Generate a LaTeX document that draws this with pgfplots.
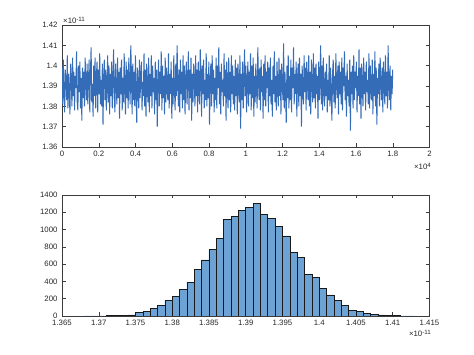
\documentclass[border=0pt]{standalone}
\usepackage{pgfplots}
\pgfplotsset{compat=1.18}
\usepackage{fontspec}
\setmainfont{Liberation Sans}
\definecolor{sigblue}{RGB}{52,108,184}
\definecolor{histblue}{RGB}{108,162,212}
\definecolor{axgray}{RGB}{60,60,60}
\newcommand{\supx}[1]{\raisebox{0.55ex}{\fontsize{6.2}{7}\selectfont #1}}
\pgfplotsset{
  mstyle/.style={
    scale only axis,
    width=367.5pt,
    axis line style={axgray, line width=0.5pt},
    every tick/.style={axgray, line width=0.5pt},
    tick align=inside,
    major tick length=3.5pt,
    tick label style={font=\fontsize{7.8}{9}\selectfont, text=black!85},
    /pgf/number format/assume math mode=true,
    scaled ticks=false,
    xtick pos=both, ytick pos=both,
    yticklabel style={xshift=-1pt},
    xticklabel style={yshift=-1pt},
  }
}
\begin{document}
\begin{tikzpicture}[x=1pt,y=1pt]
\path[use as bounding box] (0,0) rectangle (474,355);
\begin{axis}[mstyle, at={(62pt,208pt)}, anchor=south west,
  height=122pt,
  xmin=0, xmax=2, ymin=1.36, ymax=1.42,
  xtick={0,0.2,0.4,0.6,0.8,1,1.2,1.4,1.6,1.8,2},
  xticklabels={0,0.2,0.4,0.6,0.8,1,1.2,1.4,1.6,1.8,2},
  ytick={1.36,1.37,1.38,1.39,1.40,1.41,1.42},
  yticklabels={1.36,1.37,1.38,1.39,1.4,1.41,1.42},
  clip=true]
\addplot[sigblue, line width=1.0pt, line join=miter] table[row sep=\\, header=false, x expr=\coordindex*0.0036, y index=0] {
1.399\\1.381\\1.403\\1.386\\1.377\\1.398\\1.392\\1.383\\1.405\\1.379\\1.396\\1.388\\1.376\\1.401\\1.393\\1.380\\1.404\\1.385\\1.397\\1.378\\
1.395\\1.389\\1.407\\1.382\\1.378\\1.400\\1.387\\1.402\\1.379\\1.394\\1.373\\1.399\\1.384\\1.397\\1.380\\1.404\\1.390\\1.383\\1.401\\1.381\\
1.392\\1.403\\1.377\\1.396\\1.409\\1.382\\1.391\\1.375\\1.400\\1.385\\1.404\\1.379\\1.395\\1.402\\1.377\\1.398\\1.386\\1.406\\1.381\\1.393\\
1.380\\1.401\\1.371\\1.395\\1.403\\1.383\\1.398\\1.378\\1.391\\1.405\\1.382\\1.400\\1.376\\1.396\\1.385\\1.402\\1.379\\1.393\\1.408\\1.386\\
1.377\\1.401\\1.390\\1.381\\1.404\\1.384\\1.397\\1.374\\1.399\\1.386\\1.403\\1.378\\1.394\\1.382\\1.406\\1.389\\1.376\\1.402\\1.384\\1.398\\
1.379\\1.404\\1.392\\1.381\\1.410\\1.395\\1.376\\1.401\\1.383\\1.397\\1.380\\1.405\\1.387\\1.372\\1.399\\1.390\\1.379\\1.403\\1.384\\1.394\\
1.402\\1.378\\1.392\\1.385\\1.406\\1.380\\1.398\\1.375\\1.401\\1.389\\1.382\\1.404\\1.377\\1.396\\1.385\\1.405\\1.379\\1.400\\1.387\\1.394\\
1.376\\1.402\\1.383\\1.398\\1.370\\1.392\\1.403\\1.380\\1.397\\1.386\\1.407\\1.378\\1.400\\1.384\\1.395\\1.376\\1.404\\1.382\\1.399\\1.389\\
1.383\\1.406\\1.379\\1.396\\1.386\\1.402\\1.374\\1.394\\1.381\\1.405\\1.389\\1.378\\1.401\\1.385\\1.410\\1.392\\1.380\\1.398\\1.377\\1.403\\
1.386\\1.397\\1.379\\1.405\\1.383\\1.400\\1.376\\1.394\\1.402\\1.381\\1.390\\1.407\\1.378\\1.398\\1.384\\1.404\\1.373\\1.396\\1.382\\1.401\\
1.392\\1.380\\1.405\\1.385\\1.398\\1.377\\1.402\\1.389\\1.381\\1.408\\1.395\\1.375\\1.400\\1.386\\1.403\\1.379\\1.393\\1.383\\1.406\\1.380\\
1.396\\1.384\\1.402\\1.371\\1.392\\1.401\\1.380\\1.405\\1.386\\1.398\\1.377\\1.394\\1.383\\1.404\\1.379\\1.400\\1.389\\1.409\\1.381\\1.397\\
1.376\\1.401\\1.387\\1.393\\1.380\\1.406\\1.385\\1.398\\1.373\\1.402\\1.390\\1.379\\1.404\\1.383\\1.397\\1.377\\1.405\\1.386\\1.400\\1.381\\
1.395\\1.378\\1.403\\1.385\\1.399\\1.376\\1.401\\1.390\\1.382\\1.405\\1.369\\1.396\\1.383\\1.402\\1.379\\1.393\\1.408\\1.385\\1.400\\1.377\\
1.391\\1.402\\1.380\\1.397\\1.386\\1.406\\1.378\\1.400\\1.384\\1.404\\1.375\\1.395\\1.382\\1.401\\1.389\\1.379\\1.409\\1.393\\1.383\\1.399\\
1.378\\1.403\\1.387\\1.395\\1.374\\1.401\\1.383\\1.405\\1.380\\1.397\\1.389\\1.402\\1.377\\1.399\\1.385\\1.404\\1.381\\1.393\\1.375\\1.400\\
1.386\\1.407\\1.382\\1.395\\1.378\\1.402\\1.390\\1.380\\1.404\\1.385\\1.398\\1.376\\1.401\\1.392\\1.383\\1.411\\1.379\\1.397\\1.386\\1.372\\
1.400\\1.384\\1.405\\1.379\\1.395\\1.383\\1.403\\1.377\\1.399\\1.389\\1.409\\1.381\\1.396\\1.386\\1.402\\1.375\\1.393\\1.401\\1.380\\1.404\\
1.385\\1.396\\1.370\\1.400\\1.390\\1.381\\1.405\\1.387\\1.399\\1.378\\1.402\\1.392\\1.383\\1.405\\1.380\\1.397\\1.376\\1.403\\1.390\\1.382\\
1.406\\1.384\\1.399\\1.379\\1.401\\1.386\\1.395\\1.374\\1.402\\1.383\\1.392\\1.410\\1.381\\1.400\\1.378\\1.404\\1.389\\1.380\\1.397\\1.385\\
1.401\\1.377\\1.393\\1.383\\1.405\\1.380\\1.399\\1.387\\1.373\\1.396\\1.403\\1.382\\1.395\\1.379\\1.406\\1.390\\1.384\\1.400\\1.376\\1.402\\
1.386\\1.397\\1.381\\1.404\\1.378\\1.399\\1.390\\1.407\\1.383\\1.395\\1.375\\1.401\\1.385\\1.393\\1.380\\1.403\\1.368\\1.397\\1.386\\1.400\\
1.379\\1.405\\1.383\\1.397\\1.389\\1.402\\1.377\\1.395\\1.385\\1.408\\1.381\\1.399\\1.374\\1.401\\1.390\\1.380\\1.404\\1.386\\1.397\\1.378\\
1.402\\1.387\\1.393\\1.381\\1.406\\1.379\\1.400\\1.389\\1.383\\1.403\\1.376\\1.396\\1.385\\1.407\\1.380\\1.399\\1.371\\1.394\\1.386\\1.401\\
1.380\\1.404\\1.390\\1.383\\1.399\\1.377\\1.402\\1.392\\1.381\\1.405\\1.385\\1.397\\1.379\\1.410\\1.390\\1.383\\1.400\\1.378\\1.395\\1.386\\1.398\\
};
\end{axis}
\node[anchor=south west, inner sep=0pt, font=\fontsize{7.8}{9}\selectfont, text=black!85] at (63,331) {×10\supx{-11}};
\node[anchor=north east, inner sep=0pt, font=\fontsize{7.8}{9}\selectfont, text=black!85] at (431,192) {×10\supx{4}};
\begin{axis}[mstyle, at={(62pt,39pt)}, anchor=south west,
  height=121pt,
  xmin=1.365, xmax=1.415, ymin=0, ymax=1400,
  xtick={1.365,1.37,1.375,1.38,1.385,1.39,1.395,1.4,1.405,1.41,1.415},
  xticklabels={1.365,1.37,1.375,1.38,1.385,1.39,1.395,1.4,1.405,1.41,1.415},
  ytick={0,200,400,600,800,1000,1200,1400},
  yticklabels={0,200,400,600,800,1000,1200,1400}]
\addplot[ybar interval, fill=histblue, draw=black!90, line width=0.6pt] coordinates {
(1.368,1) (1.369,1) (1.370,2) (1.371,3) (1.372,6) (1.373,9) (1.374,12)
(1.375,42) (1.376,50) (1.377,89) (1.378,127) (1.379,181) (1.380,228)
(1.381,312) (1.382,393) (1.383,540) (1.384,648) (1.385,767) (1.386,899)
(1.387,1122) (1.388,1150) (1.389,1226) (1.390,1253) (1.391,1304)
(1.392,1180) (1.393,1130) (1.394,1034) (1.395,926) (1.396,733) (1.397,675)
(1.398,482) (1.399,444) (1.400,320) (1.401,243) (1.402,181) (1.403,127)
(1.404,69) (1.405,50) (1.406,27) (1.407,15) (1.408,12) (1.409,8)
(1.410,4) (1.411,2) (1.412,1) (1.413,1)
};
\end{axis}
\node[anchor=north east, inner sep=0pt, font=\fontsize{7.8}{9}\selectfont, text=black!85] at (431,25) {×10\supx{-11}};
\end{tikzpicture}
\end{document}
